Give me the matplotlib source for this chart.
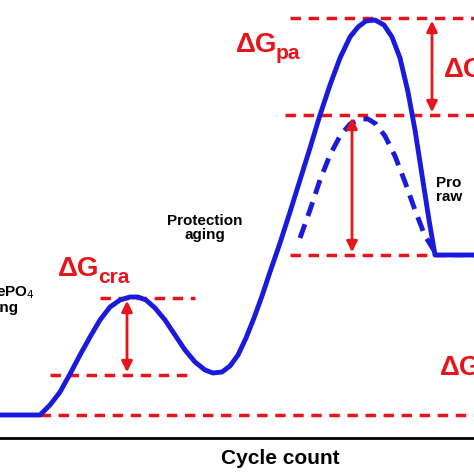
import matplotlib
matplotlib.use('Agg')
import matplotlib.pyplot as plt

# curve points in picture pixels (x right, y down)
main_x = [0, 40, 50, 60, 70, 80, 90, 100, 110, 120, 130, 138, 146, 155, 165, 175, 185, 195, 205, 213, 222, 230, 238, 246, 254, 262, 270, 280, 290, 300, 310, 320, 330, 340, 350, 358, 366, 375, 384, 392, 400, 408, 415, 422, 429, 435, 474]
main_y = [415, 415, 405, 392, 374, 355, 337, 320, 307, 300, 297, 297, 300, 308, 320, 335, 350, 362, 370, 373, 372, 366, 355, 338, 318, 296, 272, 243, 212, 180, 148, 115, 85, 58, 37, 27, 21, 20, 25, 37, 58, 92, 130, 175, 220, 255, 255]
dash_x = [300, 310, 320, 330, 340, 350, 360, 368, 376, 385, 395, 405, 415, 425, 437]
dash_y = [238, 210, 180, 155, 136, 124, 119, 119, 124, 136, 156, 182, 210, 236, 255]

# red dashed levels: (y, x0, x1)
levels = [(415, 40, 474), (375, 50, 190), (298, 100, 195), (255, 290, 474), (115, 285, 474), (18, 290, 474)]
# double arrows: (x, y0, y1)
arrows = [(127, 298, 375), (352, 115, 255), (432, 18, 115)]

red = '#e8141b'
blue = '#1a1adc'
font = 'Liberation Sans'

fig = plt.figure(figsize=(4.74, 4.74), dpi=100)
ax = fig.add_axes([0, 0, 1, 1])
ax.set_xlim(0, 474)
ax.set_ylim(474, 0)
ax.axis('off')

for y, x0, x1 in levels:
    ax.plot([x0, x1], [y, y], color=red, lw=2.5, ls=(0, (3, 2.2)))
ax.plot(main_x, main_y, color=blue, lw=3.5, solid_capstyle='round', solid_joinstyle='round')
ax.plot(dash_x, dash_y, color=blue, lw=3.5, ls=(0, (3, 1.8)))
for x, y0, y1 in arrows:
    ax.annotate('', xy=(x, y0), xytext=(x, y1),
                arrowprops=dict(arrowstyle='<|-|>', color=red, lw=2, mutation_scale=16))

ax.plot([0, 474], [438, 438], color='black', lw=2)
ax.text(280, 458, 'Cycle count', ha='center', va='center', fontsize=15, fontweight='bold', family=font)

def dg(x, y, sub):
    ax.text(x, y, 'ΔG', ha='left', va='baseline', fontsize=20, color=red, fontweight='bold', family=font)
    if sub:
        ax.text(x + 40, y + 7, sub, ha='left', va='baseline', fontsize=15, color=red, fontweight='bold', family=font)

dg(58, 276, 'cra')
dg(236, 52, 'pa')
dg(444, 77, '')
dg(440, 375, '')

ax.text(205, 228, 'Protection\naging', ha='center', va='center', fontsize=11, fontweight='bold', family=font, linespacing=1.0)
ax.text(436, 190, 'Pro\nraw', ha='left', va='center', fontsize=11, fontweight='bold', family=font, linespacing=1.0)
ax.text(-4, 300, 'ePO$_4$\ning', ha='left', va='center', fontsize=11, fontweight='bold', family=font, linespacing=1.0)

fig.savefig('out.png', dpi=100, facecolor='white')
